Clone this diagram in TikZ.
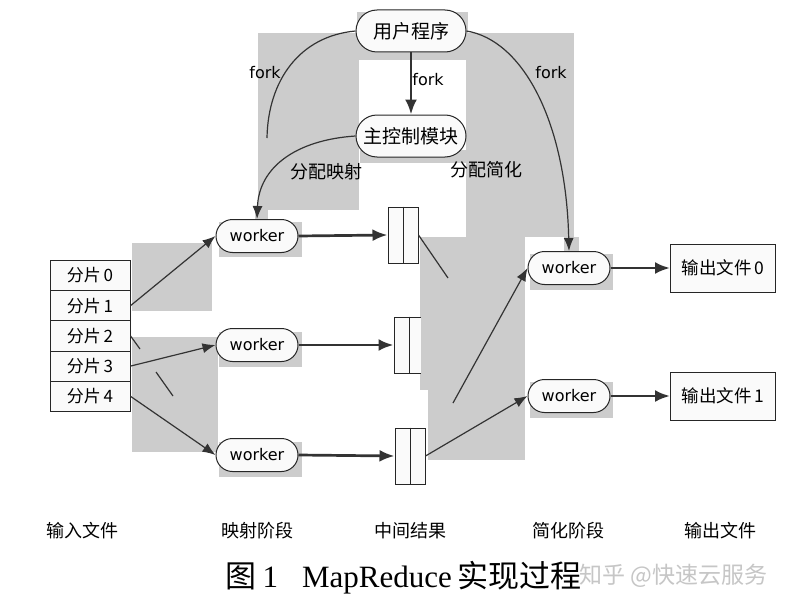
\documentclass[tikz,border=0pt]{standalone}
\usepackage{fontspec}
\setmainfont{DejaVu Sans}
\newfontfamily\cjk{Noto Sans CJK SC}
\newfontfamily\titleserif{Liberation Serif}
\usetikzlibrary{shapes.misc,arrows.meta}
\begin{document}
\begin{tikzpicture}[x=1pt,y=-1pt,
    line/.style={draw=black!80,line width=1.2pt},
    arr/.style={line,-{Latex[length=13pt,width=10pt]}},
    heavy/.style={draw=black!80,line width=2.7pt,-{Latex[length=15pt,width=12pt]}},
    patch/.style={fill=gray!40},
    box/.style={draw=black!85,line width=1pt,fill=gray!4,inner sep=0pt},
    worker/.style={box,rounded rectangle,minimum width=82pt,minimum height=33pt,
      font=\fontsize{16}{16}\selectfont},
    ctrl/.style={box,rounded rectangle,minimum width=110pt,minimum height=42pt,
      font=\cjk\fontsize{19}{19}\selectfont},
    split/.style={box,minimum width=80pt,minimum height=30.2pt,
      font=\cjk\fontsize{17}{17}\selectfont},
    outfile/.style={box,minimum width=105pt,minimum height=48pt,
      font=\cjk\fontsize{17.5}{17.5}\selectfont},
    midbox/.style={box,minimum width=30pt,minimum height=56pt},
    lbl/.style={font=\fontsize{16}{16}\selectfont},
    cnlbl/.style={font=\cjk\fontsize{18}{18}\selectfont}]
    \useasboundingbox[fill=white] (0,0) rectangle (800,610);
    % grey patches
    \fill[patch] (258,33) rectangle (359,210);
    \fill[patch] (357,12) rectangle (468,60);
    \fill[patch] (466,33) rectangle (574,237);
    \fill[patch] (360,150) rectangle (467,163);
    \fill[patch] (420,237) rectangle (525,390);
    \fill[patch] (428,390) rectangle (525,460);
    \fill[patch] (132,243) rectangle (212,311);
    \fill[patch] (132,337) rectangle (218,452);
    \fill[patch] (255,208) rectangle (268,222);
    \fill[patch] (564,237) rectangle (579,253);
    \foreach \y in {222,332,442}
      \fill[patch] (219,\y) rectangle (302,\y+35);
    \foreach \y in {254,382}
      \fill[patch] (530,\y) rectangle (613,\y+36);
    % nodes
    \node[ctrl] (user) at (411,31) {用户程序};
    \node[ctrl] (master) at (411,136) {主控制模块};
    \foreach \i in {0,...,4}
      \node[split] (s\i) at (90,{275.5+30.2*\i}) {分片\,\i};
    \node[worker] (w1) at (257,236) {worker};
    \node[worker] (w2) at (257,345) {worker};
    \node[worker] (w3) at (257,455) {worker};
    \node[midbox] (mid1) at (403,235) {};
    \node[midbox] (mid2) at (409,345) {};
    \node[midbox] (mid3) at (410,456) {};
    \foreach \m in {mid1,mid2,mid3}
      \draw[black!85,line width=1pt] (\m.north) -- (\m.south);
    \fill[patch] (420.5,315) rectangle (426,376);
    \node[worker] (r1) at (569,268) {worker};
    \node[worker] (r2) at (569,396) {worker};
    \node[outfile] (o0) at (723,268) {输出文件\,0};
    \node[outfile] (o1) at (723,396) {输出文件\,1};
    % fork and assignment curves
    \coordinate (forkend) at (267,138);
    \draw[line] (user.west) .. controls (300,36) and (268,80) .. (forkend);
    \draw[heavy] (user.south) -- (master.north);
    \draw[arr] (user.east) .. controls (522,40) and (566,120) .. (r1.north);
    \draw[arr] (master.west) .. controls (295,140) and (259,168) .. (w1.north);
    \node[lbl] (forkl) at (265,73) {fork};
    \node[lbl] (forkm) at (428,80) {fork};
    \node[lbl] (forkr) at (551,73) {fork};
    \node[cnlbl] (assignmap) at (326,172) {分配映射};
    \node[cnlbl] (assignred) at (486,170) {分配简化};
    % map stage
    \draw[arr] (s1.east) -- (w1.west);
    \draw[arr] (s3.east) -- (w2.west);
    \draw[arr] (s4.east) -- (w3.west);
    \coordinate (fa) at (140,349);
    \coordinate (fb) at (156,372);
    \coordinate (fc) at (173,396);
    \draw[line] (s2.east) -- (fa);
    \draw[line] (fb) -- (fc);
    \draw[heavy] (w1.east) -- (mid1.west);
    \draw[heavy] (w2.east) -- (mid2.west);
    \draw[heavy] (w3.east) -- (mid3.west);
    % reduce stage
    \coordinate (fd) at (448,278);
    \coordinate (fe) at (453,403);
    \draw[line] (mid1.east) -- (fd);
    \draw[arr] (fe) -- (r1.west);
    \draw[arr] (mid3.east) -- (r2.west);
    \draw[heavy] (r1.east) -- (o0.west);
    \draw[heavy] (r2.east) -- (o1.west);
    % captions
    \node[cnlbl] (capin) at (82,531) {输入文件};
    \node[cnlbl] (capmap) at (257,531) {映射阶段};
    \node[cnlbl] (capmid) at (410,531) {中间结果};
    \node[cnlbl] (capred) at (568,531) {简化阶段};
    \node[cnlbl] (capout) at (720,531) {输出文件};
    \node[anchor=west,font=\fontsize{31}{31}\selectfont] (title) at (222,578)
      {{\cjk 图}\hspace{6pt}{\titleserif 1}\hspace{24pt}{\titleserif MapReduce}\hspace{6pt}{\cjk 实现过程}};
    \node[anchor=west,text=gray!45,font=\cjk\fontsize{23}{23}\selectfont] (mark) at (576,576)
      {知乎 @快速云服务};
\end{tikzpicture}
\end{document}
